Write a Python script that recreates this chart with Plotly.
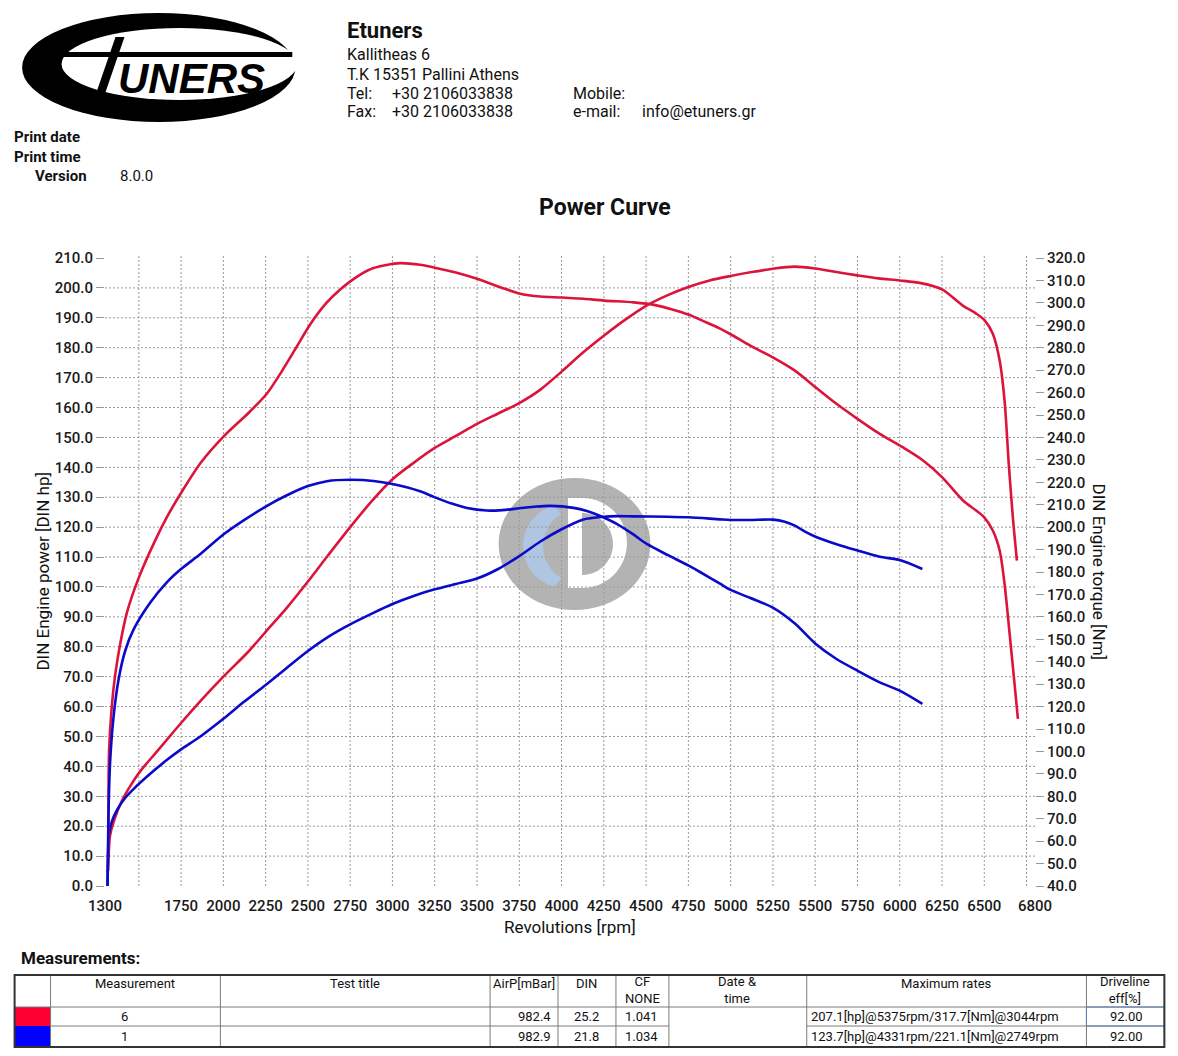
import numpy as np
import plotly.graph_objects as go

# ---------------- DATA ----------------
red_power_rpm = [1318, 1322, 1330, 1360, 1400, 1450, 1510, 1600, 1667, 1750, 1864, 2000, 2150, 2250,
                 2375, 2500, 2625, 2750, 2875, 3000, 3125, 3250, 3375, 3500, 3625, 3750, 3875, 4000,
                 4125, 4250, 4375, 4500, 4625, 4750, 4875, 5000, 5125, 5250, 5375, 5500, 5625, 5750,
                 5875, 6000, 6125, 6250, 6375, 6450, 6500, 6551, 6591, 6620, 6645, 6669, 6693]
red_power_hp = [5, 11, 17, 23, 28.5, 33.5, 38.5, 44.5, 49, 54.5, 61.8, 70, 78.5, 85,
                93, 101.8, 111, 120, 128.5, 136, 141.5, 146.5, 150.5, 154.5, 158, 161.5, 166, 172,
                178.3, 184, 189.3, 194, 197.5, 200.3, 202.5, 204, 205.3, 206.4, 207.1, 206.5, 205.3, 204.2,
                203.2, 202.5, 201.6, 199.5, 194, 191.5, 189.3, 184.6, 175.7, 162.3, 141, 123.3, 108.8]

red_torque_rpm = [1320, 1324, 1340, 1360, 1390, 1430, 1500, 1590, 1670, 1756, 1864, 2002, 2150, 2258,
                  2340, 2435, 2514, 2612, 2691, 2789, 2888, 3044, 3163, 3244, 3375, 3500, 3638, 3750,
                  3874, 4002, 4130, 4252, 4425, 4555, 4650, 4750, 4850, 4937, 5000, 5114, 5252, 5380,
                  5502, 5626, 5750, 5882, 6000, 6138, 6250, 6374, 6450, 6500, 6551, 6591, 6620, 6650,
                  6679, 6699]
red_torque_nm = [55, 100, 120, 134, 148, 162, 177.5, 193, 205, 216, 228.5, 240.5, 251, 259.6,
                 268.8, 280.6, 290.5, 300.2, 306, 311.6, 315.5, 317.7, 317, 315.8, 313.5, 310.7, 307, 304.2,
                 302.8, 302.4, 301.8, 301, 300.2, 299, 297.2, 294.8, 291.5, 288.5, 286, 281, 275.6, 269.8,
                 262.4, 255, 248.3, 241.6, 236.4, 229.7, 222.3, 211.9, 207.5, 204.4, 198.4, 189.6, 174.7, 152.4,
                 130.1, 114.5]

blue_power_rpm = [1315, 1318, 1323, 1340, 1372, 1420, 1470, 1569, 1667, 1750, 1864, 2002, 2120, 2252,
                  2376, 2500, 2625, 2750, 2875, 3000, 3125, 3250, 3375, 3500, 3625, 3750, 3875, 4000,
                  4125, 4250, 4331, 4425, 4622, 4752, 4937, 5000, 5114, 5252, 5320, 5380, 5440, 5502,
                  5626, 5750, 5882, 6000, 6134]
blue_power_hp = [0, 10, 17, 21.5, 25.5, 29.5, 32.5, 37.6, 42.2, 45.7, 50, 56, 61.5, 67.3,
                 73, 78.6, 83.5, 87.5, 91, 94.3, 97, 99.2, 101, 102.8, 106, 110.3, 115.2, 119.3,
                 122.5, 123.5, 123.7, 123.6, 123.5, 123.3, 122.6, 122.4, 122.4, 122.5, 121.8, 120.5, 118.5, 116.8,
                 114.3, 112.2, 110.1, 109, 106]

blue_torque_rpm = [1315, 1320, 1330, 1350, 1380, 1420, 1470, 1569, 1667, 1750, 1864, 2002, 2120, 2258,
                   2376, 2500, 2612, 2749, 2888, 3000, 3163, 3244, 3350, 3441, 3559, 3650, 3750, 3850,
                   3933, 4071, 4150, 4228, 4326, 4420, 4504, 4630, 4752, 4819, 4937, 5000, 5114, 5252,
                   5380, 5502, 5626, 5750, 5882, 6000, 6134]
blue_torque_nm = [40, 70, 95, 115, 132, 145, 154.5, 166.5, 175.5, 181.3, 188, 196.8, 203, 209.5,
                  214.2, 218.3, 220.5, 221.1, 220.6, 219.2, 216, 213.5, 210.5, 208.5, 207.4, 207.6, 208.4, 209.2,
                  209.5, 208.6, 207.2, 205, 201.5, 197, 192.5, 187.5, 182.8, 180, 174.8, 172, 168.5, 164,
                  157, 148, 141.2, 136, 130.8, 127.1, 121.2]

x_tick_vals = [1300, 1750, 2000, 2250, 2500, 2750, 3000, 3250, 3500, 3750, 4000, 4250,
               4500, 4750, 5000, 5250, 5500, 5750, 6000, 6250, 6500, 6800]
x_grid_vals = list(range(1500, 6751, 250))
y_left_ticks = list(range(0, 211, 10))
y_grid_vals = list(range(10, 201, 10))
y_right_ticks = list(range(40, 321, 10))

table_headers = ["", "Measurement", "Test title", "AirP[mBar]", "DIN", "CF<br>NONE",
                 "Date &<br>time", "Maximum rates", "Driveline<br>eff[%]"]
meas_ids = ["6", "1"]
test_titles = ["", ""]
air_p = ["982.4", "982.9"]
din_vals = ["25.2", "21.8"]
cf_vals = ["1.041", "1.034"]
max_rates = ["207.1[hp]@5375rpm/317.7[Nm]@3044rpm", "123.7[hp]@4331rpm/221.1[Nm]@2749rpm"]
eff_vals = ["92.00", "92.00"]

RED = "#dc143c"
BLUE = "#0a0ac8"
FONT = "Roboto"
W, H = 1178, 1056
PL, PR, PT, PB = 104.5, 1035.5, 258, 886


def fx(px):
    return (px - PL) / (PR - PL)


def fy(py):
    return (PB - py) / (PB - PT)


def path_from(points):
    s = "M %.5f,%.5f" % (fx(points[0][0]), fy(points[0][1]))
    for p in points[1:]:
        s += " L %.5f,%.5f" % (fx(p[0]), fy(p[1]))
    return s + " Z"


def arc(cx, cy, rx, ry, a0, a1, n=40):
    a = np.radians(np.linspace(a0, a1, n))
    return list(zip(cx + rx * np.cos(a), cy - ry * np.sin(a)))


fig = go.Figure()
line_style = dict(width=2.6, shape="spline", smoothing=0.8)
fig.add_trace(go.Scatter(x=red_torque_rpm, y=red_torque_nm, yaxis="y2", mode="lines",
                         line=dict(color=RED, **line_style), hoverinfo="skip", showlegend=False))
fig.add_trace(go.Scatter(x=red_power_rpm, y=red_power_hp, mode="lines",
                         line=dict(color=RED, **line_style), hoverinfo="skip", showlegend=False))
fig.add_trace(go.Scatter(x=blue_torque_rpm, y=blue_torque_nm, yaxis="y2", mode="lines",
                         line=dict(color=BLUE, **line_style), hoverinfo="skip", showlegend=False))
fig.add_trace(go.Scatter(x=blue_power_rpm, y=blue_power_hp, mode="lines",
                         line=dict(color=BLUE, **line_style), hoverinfo="skip", showlegend=False))

shapes = []
annotations = []

# ---- watermark ----
GRAY = "#b3b3b3"
shapes.append(dict(type="circle", xref="paper", yref="paper", x0=fx(498.5), x1=fx(650.5),
                   y0=fy(610), y1=fy(478), fillcolor=GRAY, line=dict(width=0), layer="below"))
cres = arc(565, 546, 42, 42, 105, 255) + arc(580, 546, 37, 37, 240, 120)
shapes.append(dict(type="path", xref="paper", yref="paper", path=path_from(cres),
                   fillcolor="#afc6e2", line=dict(width=0), layer="below"))
dpts = [(568, 498)] + arc(582, 543, 45, 45, 90, -90) + [(568, 588)]
shapes.append(dict(type="path", xref="paper", yref="paper", path=path_from(dpts),
                   fillcolor="white", line=dict(width=0), layer="below"))
dhole = arc(582, 544, 31, 31, 90, -90)
shapes.append(dict(type="path", xref="paper", yref="paper", path=path_from(dhole),
                   fillcolor=GRAY, line=dict(width=0), layer="below"))

# ---- grid lines (dotted), placed through the axis scales ----
GRID = "#9a9a9a"
for v in x_grid_vals:
    shapes.append(dict(type="line", xref="x", yref="paper", x0=v, x1=v, y0=0, y1=1.005,
                       line=dict(color=GRID, width=1, dash="2px,2px"), layer="between"))
for v in y_grid_vals:
    shapes.append(dict(type="line", xref="paper", yref="y", x0=0, x1=1, y0=v, y1=v,
                       line=dict(color=GRID, width=1, dash="2px,2px"), layer="between"))

# ---- logo ----
shapes.append(dict(type="circle", xref="paper", yref="paper", x0=fx(21.5), x1=fx(295),
                   y0=fy(122), y1=fy(13), fillcolor="black", line=dict(width=0)))
shapes.append(dict(type="circle", xref="paper", yref="paper", x0=fx(61), x1=fx(297),
                   y0=fy(100), y1=fy(28), fillcolor="white", line=dict(width=0)))
shapes.append(dict(type="path", xref="paper", yref="paper",
                   path=path_from([(62, 52), (292, 52), (292, 57), (62, 57)]),
                   fillcolor="black", line=dict(width=0)))
shapes.append(dict(type="path", xref="paper", yref="paper",
                   path=path_from([(115, 37), (124, 37), (104, 95), (95, 95)]),
                   fillcolor="black", line=dict(width=0)))
annotations.append(dict(xref="paper", yref="paper", x=fx(116), y=fy(79), xanchor="left", yanchor="middle",
                        text="<b><i>UNERS</i></b>", showarrow=False,
                        font=dict(family="Liberation Sans", size=42, color="black")))


def txt(x, y, t, size=15, bold=False, anchor="left", color="#111111", angle=0):
    annotations.append(dict(xref="paper", yref="paper", x=fx(x), y=fy(y), xanchor=anchor,
                            yanchor="middle", text=("<b>%s</b>" % t) if bold else t, showarrow=False,
                            textangle=angle, font=dict(family=FONT, size=size, color=color)))


# ---- header ----
txt(345, 30, "Etuners", 22, True)
txt(345, 54, "Kallitheas 6", 16)
txt(345, 74, "T.K 15351 Pallini Athens", 16)
txt(345, 93, "Tel:", 16)
txt(390, 93, "+30 2106033838", 16)
txt(345, 112, "Fax:", 16)
txt(390, 112, "+30 2106033838", 16)
txt(571, 93, "Mobile:", 16)
txt(571, 112, "e-mail:", 16)
txt(640, 112, "info@etuners.gr", 16)
txt(11, 137, "Print date", 15, True)
txt(11, 157, "Print time", 15, True)
txt(88, 176, "Version", 15, True, anchor="right")
txt(118, 176, "8.0.0", 15)
txt(605, 207, "Power Curve", 23, True, anchor="center")

# axis titles
txt(42, 571, "DIN Engine power [DIN hp]", 17, anchor="center", angle=-90)
txt(1100, 572, "DIN Engine torque [Nm]", 17, anchor="center", angle=90)
txt(570, 927, "Revolutions [rpm]", 17, anchor="center")

# ---- table ----
txt(18, 958, "Measurements:", 17, True)
cols = [14, 50, 220, 490, 558, 616, 669, 807, 1087, 1165]
T0, T1, T2, T3 = 975, 1007, 1026, 1047
LINE = "#7a7a7a"


def seg(x0, y0, x1, y1, color=LINE, width=1):
    shapes.append(dict(type="line", xref="paper", yref="paper", x0=fx(x0), y0=fy(y0), x1=fx(x1),
                       y1=fy(y1), line=dict(color=color, width=width)))


def box(x0, y0, x1, y1, fill):
    shapes.append(dict(type="rect", xref="paper", yref="paper", x0=fx(x0), y0=fy(y1), x1=fx(x1),
                       y1=fy(y0), fillcolor=fill, line=dict(width=0)))


box(cols[0], T1, cols[1], T2, "#ff0033")
box(cols[0], T2, cols[1], T3, "#0000ff")
for c in cols[1:-1]:
    seg(c, T0, c, T3)
seg(cols[0], T1, cols[-1], T1)
seg(cols[1], T2, cols[6], T2)
seg(cols[7], T2, cols[-1], T2)
shapes.append(dict(type="rect", xref="paper", yref="paper", x0=fx(1087), x1=fx(1165), y0=fy(1026),
                   y1=fy(1007), line=dict(color="#5a7fb0", width=1)))
shapes.append(dict(type="rect", xref="paper", yref="paper", x0=fx(cols[0]), x1=fx(cols[-1]), y0=fy(T3),
                   y1=fy(T0), line=dict(color="#333333", width=2)))

for i, h in enumerate(table_headers):
    if not h:
        continue
    cx = (cols[i] + cols[i + 1]) / 2
    ylab = 990 if "<br>" in h else 983
    txt(cx, ylab, h, 13, anchor="center")

row_y = [1016.5, 1036.5]
for r in range(2):
    txt(124, row_y[r], meas_ids[r], 13, anchor="center")
    txt(355, row_y[r], test_titles[r], 13, anchor="center")
    txt(553, row_y[r], air_p[r], 13, anchor="right")
    txt(587, row_y[r], din_vals[r], 13, anchor="center")
    txt(642, row_y[r], cf_vals[r], 13, anchor="center")
    txt(809, row_y[r], max_rates[r], 13)
    txt(1127, row_y[r], eff_vals[r], 13, anchor="center")

tickfont = dict(family=FONT, size=15, color="#1a1a1a", weight=500)
fig.update_layout(
    width=W, height=H,
    margin=dict(l=PL, r=W - PR, t=PT, b=H - PB, pad=0),
    paper_bgcolor="white", plot_bgcolor="white",
    showlegend=False,
    xaxis=dict(range=[1300, 6800], tickmode="array", tickvals=x_tick_vals,
               ticktext=[str(v) for v in x_tick_vals],
               showgrid=False, zeroline=False, showline=False, ticks="outside", ticklen=6,
               tickcolor="rgba(0,0,0,0)", tickfont=tickfont),
    yaxis=dict(range=[0, 210], tickmode="array", tickvals=y_left_ticks,
               ticktext=["%.1f" % v for v in y_left_ticks], showgrid=False, zeroline=False,
               showline=False, ticks="outside", ticklen=8, tickcolor="#999999", tickfont=tickfont),
    yaxis2=dict(range=[40, 320], overlaying="y", side="right", tickmode="array", tickvals=y_right_ticks,
                ticktext=["%.1f" % v for v in y_right_ticks], showgrid=False, zeroline=False,
                showline=False, ticks="outside", ticklen=8, tickcolor="#999999", tickfont=tickfont),
    shapes=shapes,
    annotations=annotations,
)

fig.write_html("out.html", config={"displayModeBar": False},
               post_script="document.body.style.margin='0px';")
